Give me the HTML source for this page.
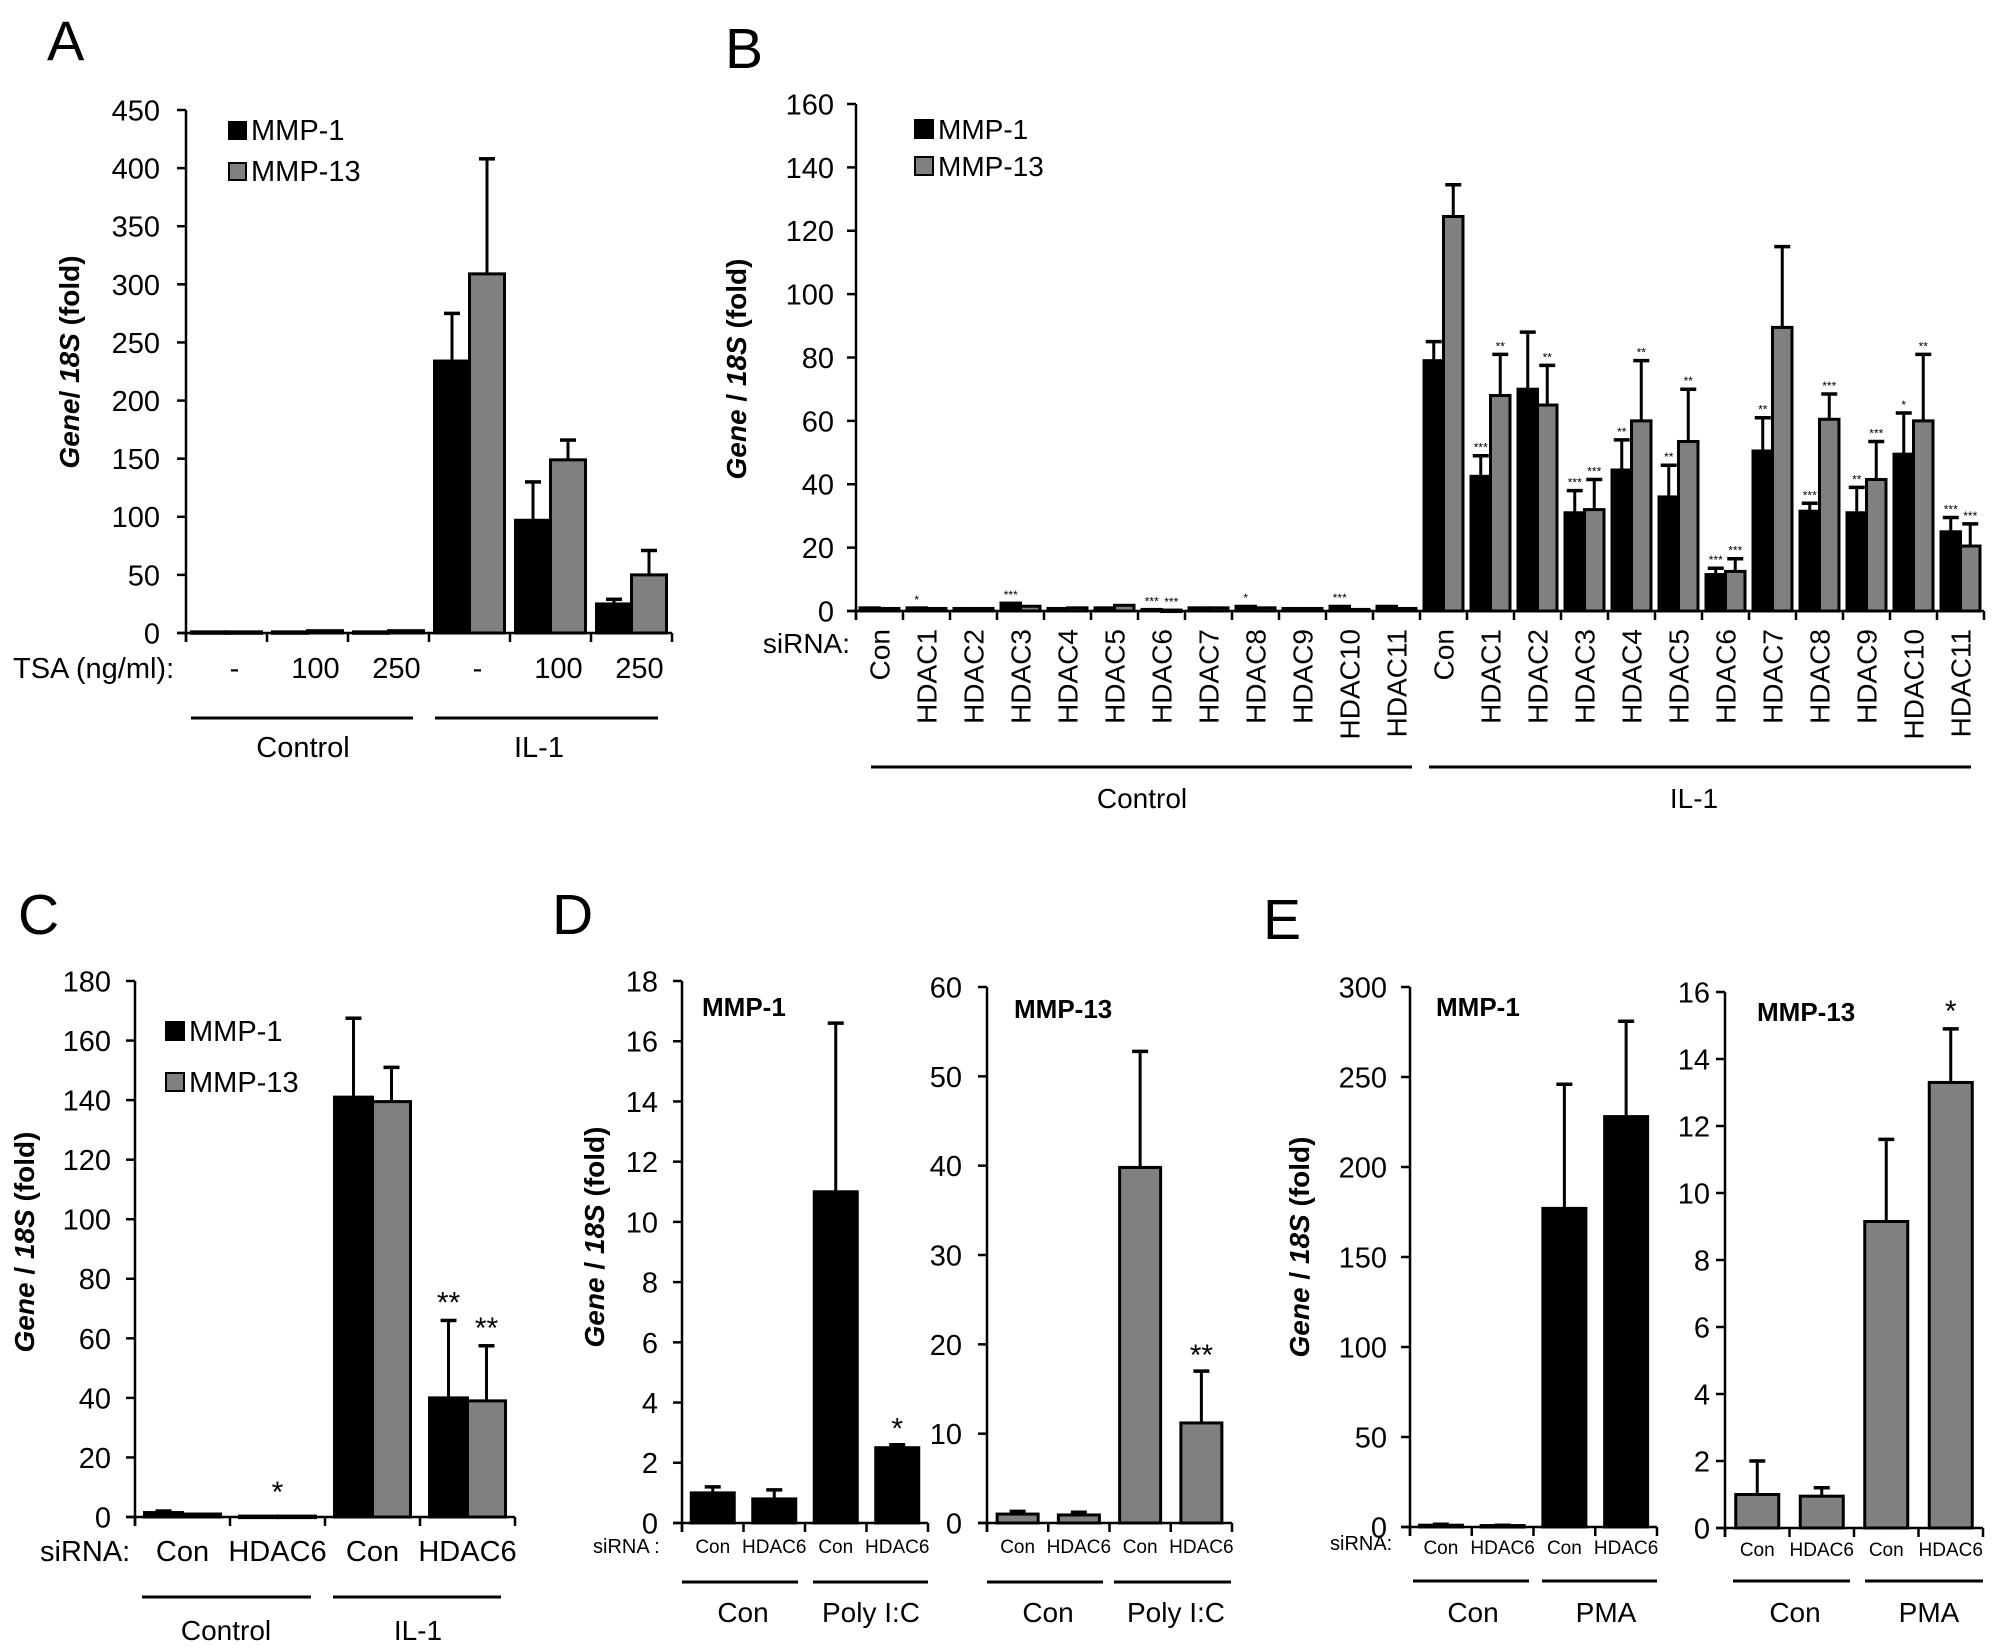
<!DOCTYPE html>
<html><head><meta charset="utf-8"><style>
html,body{margin:0;padding:0;background:#fff;}
svg{display:block;font-family:"Liberation Sans",Arial,sans-serif;}
</style></head><body>
<svg id="fig" width="2006" height="1649" viewBox="0 0 2006 1649" xmlns="http://www.w3.org/2000/svg">
<rect width="2006" height="1649" fill="#fff"/>
<g id="root"></g>
</svg>
<script>
// ---------- Panel A data ----------
const aCategories = ["-","100","250","-","100","250"];
const aMmp1 = [1, 1, 1, 234, 97, 25];
const aMmp1Err = [0, 0, 0, 275, 130, 29];
const aMmp13 = [1, 2, 2, 309, 149, 50];
const aMmp13Err = [0, 0, 0, 408, 166, 71];
const aTicks = [0,50,100,150,200,250,300,350,400,450];
// ---------- Panel B data ----------
const bCategories = ["Con","HDAC1","HDAC2","HDAC3","HDAC4","HDAC5","HDAC6","HDAC7","HDAC8","HDAC9","HDAC10","HDAC11","Con","HDAC1","HDAC2","HDAC3","HDAC4","HDAC5","HDAC6","HDAC7","HDAC8","HDAC9","HDAC10","HDAC11"];
const bMmp1 = [1,1,0.8,2.5,0.8,1,0.5,1,1.5,0.8,1.5,1.5, 79,42.5,70,31,44.5,36,11.5,50.5,31.5,31,49.5,25];
const bMmp1Err = [0,0,0,0,0,0,0,0,0,0,0,0, 85,49,88,38,54,46,13.5,61,34,39,62.5,29.5];
const bMmp13 = [0.8,0.8,0.8,1.5,1,1.8,0.3,1,1,0.8,0.5,0.8, 124.5,68,65,32,60,53.5,12.5,89.5,60.5,41.5,60,20.5];
const bMmp13Err = [0,0,0,0,0,0,0,0,0,0,0,0, 134.5,81,77.5,41.5,79,70,16.5,115,68.5,53.5,81,27.5];
const bMmp1Stars = ["","*","","***","","","***","","*","","***","", "","***","","***","**","**","***","**","***","**","*","***"];
const bMmp13Stars = ["","","","","","","***","","","","","", "","**","**","***","**","**","***","","***","***","**","***"];
const bTicks = [0,20,40,60,80,100,120,140,160];
// ---------- Panel C data ----------
const cCategories = ["Con","HDAC6","Con","HDAC6"];
const cMmp1 = [1.5, 0.3, 141, 40];
const cMmp1Err = [2, 0, 167.5, 66];
const cMmp13 = [1, 0.3, 139.5, 39];
const cMmp13Err = [0, 0, 151, 57.5];
const cMmp1Stars = ["","*","","**"];
const cMmp13Stars = ["","","","**"];
const cTicks = [0,20,40,60,80,100,120,140,160,180];
// ---------- Panel D data ----------
const dCategories = ["Con","HDAC6","Con","HDAC6"];
const d1Vals = [1.0, 0.8, 11.0, 2.5];
const d1Err = [1.2, 1.1, 16.6, 2.6];
const d1Stars = ["","","","*"];
const d1Ticks = [0,2,4,6,8,10,12,14,16,18];
const d13Vals = [1.0, 0.9, 39.8, 11.2];
const d13Err = [1.3, 1.2, 52.8, 17];
const d13Stars = ["","","","**"];
const d13Ticks = [0,10,20,30,40,50,60];
// ---------- Panel E data ----------
const eCategories = ["Con","HDAC6","Con","HDAC6"];
const e1Vals = [1, 0.8, 177, 228];
const e1Err = [1.5, 1, 246, 281];
const e1Stars = ["","","",""];
const e1Ticks = [0,50,100,150,200,250,300];
const e13Vals = [1, 0.95, 9.15, 13.3];
const e13Err = [2, 1.2, 11.6, 14.9];
const e13Stars = ["","","","*"];
const e13Ticks = [0,2,4,6,8,10,12,14,16];

const NS="http://www.w3.org/2000/svg";
const root=document.getElementById('root');
function mk(tag,attrs,parent,text){const e=document.createElementNS(NS,tag);for(const k in attrs)e.setAttribute(k,attrs[k]);if(text!==undefined)e.textContent=text;(parent||root).appendChild(e);return e;}

function panel(cfg){
  const g=mk('g',{});
  
  
  const max=cfg.ticks[cfg.ticks.length-1];
  const yS=v=>cfg.y0-(v/max)*(cfg.y0-cfg.yTop);
  const n=cfg.cats.length;const gw=(cfg.x1-cfg.x0)/n;
  // axes
  const ya=mk('line',{x1:cfg.x0,y1:cfg.yTop,x2:cfg.x0,y2:cfg.y0+9,stroke:'#000','stroke-width':2.5},g);
  
  
  const xa=mk('line',{x1:cfg.x0-9,y1:cfg.y0,x2:cfg.x1,y2:cfg.y0,stroke:'#000','stroke-width':2.5},g);
  
  
  cfg.ticks.forEach(t=>{
    const y=yS(t);
    mk('line',{x1:cfg.x0-9,y1:y,x2:cfg.x0,y2:y,stroke:'#000','stroke-width':2.5},g);
    const tl=mk('text',{x:cfg.labR,y:y+cfg.tf*0.36,'font-size':cfg.tf,'text-anchor':'end'},g,String(t));
    
    
  });
  for(let i=0;i<=n;i++){const x=cfg.x0+i*gw;mk('line',{x1:x,y1:cfg.y0,x2:x,y2:cfg.y0+9,stroke:'#000','stroke-width':2.5},g);}
  const ns=cfg.series.length;
  cfg.series.forEach((s,si)=>{
    s.vals.forEach((v,i)=>{
      const bx=cfg.x0+i*gw+(gw-ns*cfg.bw)/2+si*cfg.bw;
      const top=yS(v);
      const b=mk('rect',{x:bx,y:top,width:cfg.bw,height:Math.max(cfg.y0-top,1.5),fill:s.color,stroke:'#000','stroke-width':3},g);
      
      
      const cx=bx+cfg.bw/2;let starY=top;
      if(s.err[i]>v){const ey=yS(s.err[i]);
        mk('line',{x1:cx,y1:top,x2:cx,y2:ey,stroke:'#000','stroke-width':3},g);
        mk('line',{x1:cx-cfg.cap,y1:ey,x2:cx+cfg.cap,y2:ey,stroke:'#000','stroke-width':3.5},g);starY=ey;}
      if(s.stars&&s.stars[i]){const st=mk('text',{x:cx,y:starY-cfg.sOff,'font-size':cfg.sf,'text-anchor':'middle'},g,s.stars[i]);
        
        }
    });
  });
  return {g,gw};
}
function txt(x,y,s,size,opts,name){const a={x:x,y:y,'font-size':size};Object.assign(a,opts||{});const t=mk('text',a,root,s);
  
  return t;}
function line(x1,x2,y,name){const l=mk('line',{x1:x1,y1:y,x2:x2,y2:y,stroke:'#000','stroke-width':3});
  
  }
function ytitle(x,y,size,pre){const t=mk('text',{x:0,y:0,'font-size':size,'font-weight':'bold','text-anchor':'middle',transform:`translate(${x},${y}) rotate(-90)`});
  
  
  mk('tspan',{'font-style':'italic'},t,'Gene');mk('tspan',{},t,pre);mk('tspan',{'font-style':'italic'},t,'18S');mk('tspan',{},t,' (fold)');}
function legend(x,y1,y2,size,sq){
  [[y1,'#000','MMP-1'],[y2,'#808080','MMP-13']].forEach(([y,c,l])=>{
    const r=mk('rect',{x:x,y:y-sq,width:sq,height:sq,fill:c,stroke:'#000','stroke-width':2});
    
    
    txt(x+sq+5,y+1,l,size,{},'legend-entry');
  });
}

// ===== Panel A =====
txt(47,60,'A',56,{},'panel-label-a');
const pA=panel({name:'panel-a-chart',x0:186,x1:672,y0:633,yTop:110,ticks:aTicks,cats:aCategories,bw:35,cap:8,tf:29,labR:160,sf:14,sOff:4,
 series:[{key:'mmp1',vals:aMmp1,err:aMmp1Err,color:'#000'},{key:'mmp13',vals:aMmp13,err:aMmp13Err,color:'#808080'}]});
ytitle(79,362,28,'/ ');
legend(229,139,180,29,17);
txt(13,678,'TSA (ng/ml):',29,{},'x-axis-row-label');
aCategories.forEach((c,i)=>txt(186+pA.gw*(i+0.5)+8,678,c,29,{'text-anchor':'middle'},'x-tick-label'));
line(191,413,718,'group-line-control');line(435,658,718,'group-line-il1');
txt(303,757,'Control',29,{'text-anchor':'middle'},'group-label-control');
txt(539,757,'IL-1',29,{'text-anchor':'middle'},'group-label-il1');

// ===== Panel B =====
txt(725,68,'B',57,{},'panel-label-b');
const pB=panel({name:'panel-b-chart',x0:856,x1:1984,y0:611,yTop:104,ticks:bTicks,cats:bCategories,bw:19.5,cap:8,tf:29,labR:834,sf:12,sOff:4,
 series:[{key:'mmp1',vals:bMmp1,err:bMmp1Err,color:'#000',stars:bMmp1Stars},{key:'mmp13',vals:bMmp13,err:bMmp13Err,color:'#808080',stars:bMmp13Stars}]});
ytitle(746,369,28,' / ');
legend(915,138,175,28,18);
txt(850,653,'siRNA:',28,{'text-anchor':'end'},'x-axis-row-label');
bCategories.forEach((c,i)=>{const x=856+pB.gw*(i+0.5)+10;
  const t=mk('text',{x:0,y:0,'font-size':28,'text-anchor':'end',transform:`translate(${x},629) rotate(-90)`},root,c);
  
  });
line(871,1412,767,'group-line-control');line(1429,1971,767,'group-line-il1');
txt(1142,808,'Control',28,{'text-anchor':'middle'},'group-label-control');
txt(1694,808,'IL-1',28,{'text-anchor':'middle'},'group-label-il1');

// ===== Panel C =====
txt(18,934,'C',57,{},'panel-label-c');
const pC=panel({name:'panel-c-chart',x0:135,x1:515,y0:1517,yTop:981,ticks:cTicks,cats:cCategories,bw:38,cap:8,tf:29,labR:111,sf:30,sOff:8,
 series:[{key:'mmp1',vals:cMmp1,err:cMmp1Err,color:'#000',stars:["","","","**"]},{key:'mmp13',vals:cMmp13,err:cMmp13Err,color:'#808080',stars:cMmp13Stars}]});
txt(135+pC.gw*1.5,1502,'*',30,{'text-anchor':'middle'},'significance-mark');
ytitle(34,1242,28,' / ');
legend(166,1040,1091,29,18);
txt(40,1561,'siRNA:',29,{},'x-axis-row-label');
cCategories.forEach((c,i)=>txt(135+pC.gw*(i+0.5),1561,c,29,{'text-anchor':'middle'},'x-tick-label'));
line(142,311,1597,'group-line-control');line(333,501,1597,'group-line-il1');
txt(226,1640,'Control',28,{'text-anchor':'middle'},'group-label-control');
txt(418,1640,'IL-1',28,{'text-anchor':'middle'},'group-label-il1');

// ===== Panel D =====
txt(552,934,'D',57,{},'panel-label-d');
const pD1=panel({name:'panel-d-mmp1-chart',x0:682,x1:928,y0:1523,yTop:981,ticks:d1Ticks,cats:dCategories,bw:43,cap:8,tf:29,labR:658,sf:30,sOff:6,
 series:[{key:'mmp1',vals:d1Vals,err:d1Err,color:'#000',stars:d1Stars}]});
txt(702,1016,'MMP-1',26,{'font-weight':'bold'},'chart-title-mmp1');
ytitle(604,1237,28,' / ');
txt(593,1553,'siRNA  :',20,{},'x-axis-row-label');
dCategories.forEach((c,i)=>txt(682+pD1.gw*(i+0.5),1553,c,19,{'text-anchor':'middle'},'x-tick-label'));
line(682,798,1582,'group-line-con');line(813,928,1582,'group-line-polyic');
txt(743,1622,'Con',28,{'text-anchor':'middle'},'group-label-con');
txt(871,1622,'Poly I:C',28,{'text-anchor':'middle'},'group-label-polyic');

const pD13=panel({name:'panel-d-mmp13-chart',x0:987,x1:1232,y0:1523,yTop:987,ticks:d13Ticks,cats:dCategories,bw:41,cap:8,tf:29,labR:962,sf:30,sOff:6,
 series:[{key:'mmp13',vals:d13Vals,err:d13Err,color:'#808080',stars:d13Stars}]});
txt(1014,1018,'MMP-13',26,{'font-weight':'bold'},'chart-title-mmp13');
dCategories.forEach((c,i)=>txt(987+pD13.gw*(i+0.5),1553,c,19,{'text-anchor':'middle'},'x-tick-label'));
line(987,1103,1582,'group-line-con');line(1114,1231,1582,'group-line-polyic');
txt(1048,1622,'Con',28,{'text-anchor':'middle'},'group-label-con');
txt(1176,1622,'Poly I:C',28,{'text-anchor':'middle'},'group-label-polyic');

// ===== Panel E =====
txt(1263,939,'E',57,{},'panel-label-e');
const pE1=panel({name:'panel-e-mmp1-chart',x0:1410,x1:1657,y0:1527,yTop:987,ticks:e1Ticks,cats:eCategories,bw:43,cap:8,tf:29,labR:1387,sf:30,sOff:6,
 series:[{key:'mmp1',vals:e1Vals,err:e1Err,color:'#000',stars:e1Stars}]});
txt(1436,1016,'MMP-1',26,{'font-weight':'bold'},'chart-title-mmp1');
ytitle(1309,1247,28,' / ');
txt(1330,1550,'siRNA:',20,{},'x-axis-row-label');
eCategories.forEach((c,i)=>txt(1410+pE1.gw*(i+0.5),1554,c,19,{'text-anchor':'middle'},'x-tick-label'));
line(1413,1529,1581,'group-line-con');line(1542,1657,1581,'group-line-pma');
txt(1473,1622,'Con',28,{'text-anchor':'middle'},'group-label-con');
txt(1606,1622,'PMA',28,{'text-anchor':'middle'},'group-label-pma');

const pE13=panel({name:'panel-e-mmp13-chart',x0:1725,x1:1983,y0:1528,yTop:992,ticks:e13Ticks,cats:eCategories,bw:43,cap:8,tf:29,labR:1710,sf:30,sOff:8,
 series:[{key:'mmp13',vals:e13Vals,err:e13Err,color:'#808080',stars:e13Stars}]});
txt(1757,1021,'MMP-13',26,{'font-weight':'bold'},'chart-title-mmp13');
eCategories.forEach((c,i)=>txt(1725+pE13.gw*(i+0.5),1556,c,19,{'text-anchor':'middle'},'x-tick-label'));
line(1733,1850,1581,'group-line-con');line(1865,1983,1581,'group-line-pma');
txt(1795,1622,'Con',28,{'text-anchor':'middle'},'group-label-con');
txt(1929,1622,'PMA',28,{'text-anchor':'middle'},'group-label-pma');
</script>
</body></html>
